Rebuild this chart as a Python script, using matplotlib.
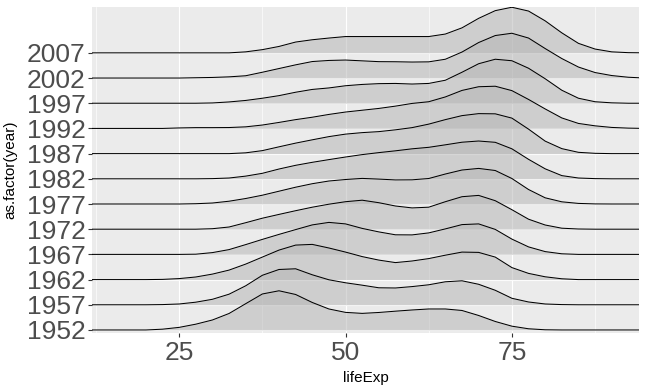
#!/bin/python3
import matplotlib
matplotlib.use("Agg")
import matplotlib.pyplot as plt
import numpy as np

life_exp = [10, 12.5, 15, 17.5, 20, 22.5, 25, 27.5, 30, 32.5, 35, 37.5, 40, 42.5,
            45, 47.5, 50, 52.5, 55, 57.5, 60, 62.5, 65, 67.5, 70, 72.5, 75, 77.5,
            80, 82.5, 85, 87.5, 90, 92.5, 95]

years = [1952, 1957, 1962, 1967, 1972, 1977, 1982, 1987, 1992, 1997, 2002, 2007]

# relative density (arbitrary units) per year, same grid as life_exp
d1952 = [0, 0, 0, 0, 0, 0.8, 2.6, 5.8, 10, 16.5, 26.3, 36, 39.2, 35.5, 27.5, 21,
         17.6, 16.6, 17.5, 18.8, 20, 21, 21, 19.5, 14.5, 8.5, 3.8, 1.2, 0.2,
         0, 0, 0, 0, 0, 0]
d1957 = [0, 0, 0, 0, 0, 0.2, 0.8, 2.6, 5.5, 10.6, 19, 29.5, 35.3, 36, 30, 25,
         22, 19.6, 17, 16.8, 18.2, 20, 23, 24, 20.5, 14.5, 6.5, 2.8, 0.8, 0.2,
         0, 0, 0, 0, 0]
d1962 = [0, 0, 0, 0, 0, 0.2, 1, 2.6, 5.5, 9.5, 15.5, 22.5, 29.5, 34.5, 35.2, 31.6,
         27.5, 23, 19.5, 17, 18.6, 21, 24.4, 27.5, 27.2, 22.5, 12, 6.2, 2.8, 0.8,
         0, 0, 0, 0, 0]
d1967 = [0, 0, 0, 0, 0, 0, 0, 0.2, 1.8, 4.8, 9.8, 15, 20, 24.8, 29.5, 32,
         30.5, 26, 22.5, 19.6, 19.5, 21.5, 25.5, 29.8, 30.5, 25, 15.3, 7.5, 2.8, 0.6,
         0, 0, 0, 0, 0]
d1972 = [0, 0, 0, 0, 0, 0, 0, 0, 0.5, 2.2, 6.5, 11, 14.8, 18.5, 22, 25,
         27.5, 29, 26.5, 23.2, 21.3, 22, 27.5, 32.5, 33.8, 28.5, 19.5, 10, 4.2, 1,
         0.2, 0, 0, 0, 0]
d1977 = [0, 0, 0, 0, 0, 0, 0, 0.3, 1, 2.8, 5.5, 8.8, 12.8, 16.8, 20.3, 23,
         24.5, 25.6, 24.9, 24.1, 24.2, 25.5, 30, 34, 35.6, 33.5, 25.5, 14.5, 6.2, 2.2,
         0.6, 0.1, 0, 0, 0]
d1982 = [0, 0, 0, 0, 0, 0, 0, 0, 0.2, 0.8, 2.7, 5.5, 9.8, 13.5, 16.5, 19.2,
         21.8, 24.2, 26.2, 28, 30, 31.5, 34, 36.6, 37.8, 36.5, 30, 19.5, 10, 3.2,
         0.8, 0.2, 0, 0, 0]
d1987 = [0, 0, 0, 0, 0, 0, 0, 0, 0, 0, 0.8, 3, 6.8, 10.5, 13.8, 17,
         19.5, 21, 22, 23.8, 26, 29.5, 34, 38, 40, 39.8, 35.5, 24.5, 12.5, 5,
         1.3, 0.3, 0, 0, 0]
d1992 = [0, 0, 0, 0, 0, 0, 0.5, 0.8, 0.8, 0.9, 1.6, 3.4, 6, 8.8, 11.2, 14,
         16.4, 18.2, 20, 22.3, 25, 26.7, 31.5, 38, 41.7, 42.2, 37.8, 29, 19.5, 10.5,
         5, 2.6, 1, 0.3, 0]
d1997 = [0, 0, 0, 0, 0, 0, 0, 0, 0.3, 1.3, 2.8, 5, 7.6, 11, 13.8, 15.3,
         17.5, 18.8, 19.6, 19.8, 19.2, 19.8, 23, 31, 39.5, 44, 42.5, 35, 24.5, 13,
         5, 1.5, 0.4, 0, 0]
d2002 = [0, 0, 0, 0, 0, 0, 0, 0.3, 0.6, 1.2, 2.3, 5.8, 9.5, 13.2, 16.5, 17.6,
         18, 17.2, 16.4, 16.3, 16, 16.2, 18.8, 26, 35.5, 42.5, 44.8, 40, 29.5, 19.5,
         11, 5.5, 2.5, 0.8, 0]
d2007 = [0, 0, 0, 0, 0, 0, 0, 0, 0, 0, 1, 3.2, 6.4, 10.8, 13.1, 14.8,
         16.3, 16.3, 16.3, 16.3, 16.3, 16.3, 18.8, 25, 34.5, 42.2, 45.6, 41.8, 32, 20,
         9.5, 3.8, 1, 0.2, 0]

densities = [d1952, d1957, d1962, d1967, d1972, d1977, d1982, d1987,
             d1992, d1997, d2002, d2007]


def visualize():
    plt.rcParams["font.family"] = ["Liberation Sans", "DejaVu Sans"]

    fig = plt.figure(figsize=(6.47, 3.92), dpi=100)
    ax = fig.add_axes([92 / 647, 1 - 333 / 392, 547 / 647, 326 / 392])
    ax.set_facecolor("#EBEBEB")

    # ridges scaled like ggridges: tallest ridge = `scale` rows
    scale = 1.81
    x = np.array(life_exp)
    top = max(max(d) for d in densities)

    for i in range(len(years) - 1, -1, -1):
        pos = i + 1
        h = np.array(densities[i]) / top * scale
        z = 3 + (len(years) - i)
        ax.fill_between(x, pos, pos + h, color="#B3B3B3", alpha=0.5, lw=0, zorder=z)
        ax.plot(x, pos + h, color="black", lw=0.75, zorder=z + 0.5)

    ax.set_xlim(11.9, 94.1)
    ax.set_ylim(0.88, 13.82)

    ax.set_xticks([25, 50, 75])
    ax.set_xticks([12.5, 37.5, 62.5, 87.5], minor=True)
    ax.set_yticks(range(1, len(years) + 1))
    ax.set_yticklabels([str(y) for y in years])

    ax.grid(True, which="major", color="white", lw=0.8, zorder=1)
    ax.grid(True, which="minor", axis="x", color="white", lw=0.45, zorder=1)
    ax.set_axisbelow(True)

    for s in ax.spines.values():
        s.set_visible(False)

    ax.tick_params(which="major", length=3.2, width=0.8, color="#333333",
                   labelsize=19, labelcolor="#4D4D4D")
    ax.tick_params(axis="y", pad=1.5)
    ax.tick_params(axis="x", pad=2.5)
    ax.tick_params(which="minor", length=0)

    fig.text(365.5 / 647, 1 - 378 / 392, "lifeExp", ha="center", va="center",
             fontsize=11, color="black")
    fig.text(10 / 647, 1 - 170 / 392, "as.factor(year)", ha="center", va="center",
             rotation=90, fontsize=11, color="black")

    fig.savefig("out.png", dpi=100, facecolor="white")


if __name__ == "__main__":
    visualize()
